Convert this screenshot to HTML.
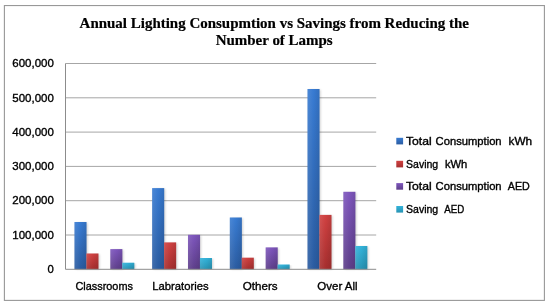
<!DOCTYPE html>
<html lang="en"><head><meta charset="utf-8"><title>Annual Lighting Consumption vs Savings</title>
<style>
html,body{margin:0;padding:0;background:#fff;}
body{width:550px;height:308px;overflow:hidden;}
svg{display:block;}
.t{font-family:"Liberation Serif",serif;font-weight:bold;font-size:14.97px;fill:#000;stroke:#000;stroke-width:0.2px;}
.a{font-family:"Liberation Sans",sans-serif;font-size:11.7px;fill:#000;stroke:#000;stroke-width:0.35px;}
.l{font-size:10.9px;}
</style></head><body>
<svg width="550" height="308" viewBox="0 0 550 308">
<defs>
<linearGradient id="gb" x1="0" x2="0" y1="0" y2="1"><stop offset="0" stop-color="#387bd2"/><stop offset="1" stop-color="#2b5ca1"/></linearGradient>
<linearGradient id="gr" x1="0" x2="0" y1="0" y2="1"><stop offset="0" stop-color="#d04141"/><stop offset="1" stop-color="#a62f2f"/></linearGradient>
<linearGradient id="gp" x1="0" x2="0" y1="0" y2="1"><stop offset="0" stop-color="#7e56bd"/><stop offset="1" stop-color="#5e3f8a"/></linearGradient>
<linearGradient id="gc" x1="0" x2="0" y1="0" y2="1"><stop offset="0" stop-color="#33b3da"/><stop offset="1" stop-color="#2893b3"/></linearGradient>
<linearGradient id="gh" x1="0" x2="1" y1="0" y2="0"><stop offset="0" stop-color="#fff" stop-opacity="0.10"/><stop offset="0.5" stop-color="#fff" stop-opacity="0"/><stop offset="0.5" stop-color="#000" stop-opacity="0"/><stop offset="1" stop-color="#000" stop-opacity="0.10"/></linearGradient>
<filter id="sh" x="-20%" y="-5%" width="150%" height="110%"><feGaussianBlur stdDeviation="0.8"/></filter>
<filter id="bl" x="-5%" y="-5%" width="110%" height="110%"><feGaussianBlur stdDeviation="0.25"/></filter>
</defs>
<rect x="0" y="0" width="550" height="308" fill="#fff"/>
<rect x="4.4" y="5.55" width="540.0" height="294.85" fill="#fff" stroke="#989898" stroke-width="1.1" filter="url(#bl)"/>

<line x1="65.5" x2="376.2" y1="63.50" y2="63.50" stroke="#a6a6a6" stroke-width="1"/>
<line x1="65.5" x2="376.2" y1="97.80" y2="97.80" stroke="#a6a6a6" stroke-width="1"/>
<line x1="65.5" x2="376.2" y1="132.10" y2="132.10" stroke="#a6a6a6" stroke-width="1"/>
<line x1="65.5" x2="376.2" y1="166.40" y2="166.40" stroke="#a6a6a6" stroke-width="1"/>
<line x1="65.5" x2="376.2" y1="200.70" y2="200.70" stroke="#a6a6a6" stroke-width="1"/>
<line x1="65.5" x2="376.2" y1="235.00" y2="235.00" stroke="#a6a6a6" stroke-width="1"/>
<rect x="75.66" y="222.80" width="11.95" height="46.50" fill="#000" opacity="0.18" filter="url(#sh)"/>
<rect x="87.61" y="254.30" width="11.95" height="15.00" fill="#000" opacity="0.18" filter="url(#sh)"/>
<rect x="111.51" y="249.90" width="11.95" height="19.40" fill="#000" opacity="0.18" filter="url(#sh)"/>
<rect x="123.46" y="263.50" width="11.95" height="5.80" fill="#000" opacity="0.18" filter="url(#sh)"/>
<rect x="74.46" y="222.00" width="12.05" height="47.30" fill="url(#gb)"/>
<rect x="74.46" y="222.00" width="12.05" height="47.30" fill="url(#gh)"/>
<rect x="86.41" y="253.50" width="12.05" height="15.80" fill="url(#gr)"/>
<rect x="86.41" y="253.50" width="12.05" height="15.80" fill="url(#gh)"/>
<rect x="110.31" y="249.10" width="12.05" height="20.20" fill="url(#gp)"/>
<rect x="110.31" y="249.10" width="12.05" height="20.20" fill="url(#gh)"/>
<rect x="122.26" y="262.70" width="12.05" height="6.60" fill="url(#gc)"/>
<rect x="122.26" y="262.70" width="12.05" height="6.60" fill="url(#gh)"/>
<rect x="153.34" y="188.90" width="11.95" height="80.40" fill="#000" opacity="0.18" filter="url(#sh)"/>
<rect x="165.29" y="243.20" width="11.95" height="26.10" fill="#000" opacity="0.18" filter="url(#sh)"/>
<rect x="189.19" y="235.60" width="11.95" height="33.70" fill="#000" opacity="0.18" filter="url(#sh)"/>
<rect x="201.14" y="258.80" width="11.95" height="10.50" fill="#000" opacity="0.18" filter="url(#sh)"/>
<rect x="152.14" y="188.10" width="12.05" height="81.20" fill="url(#gb)"/>
<rect x="152.14" y="188.10" width="12.05" height="81.20" fill="url(#gh)"/>
<rect x="164.09" y="242.40" width="12.05" height="26.90" fill="url(#gr)"/>
<rect x="164.09" y="242.40" width="12.05" height="26.90" fill="url(#gh)"/>
<rect x="187.99" y="234.80" width="12.05" height="34.50" fill="url(#gp)"/>
<rect x="187.99" y="234.80" width="12.05" height="34.50" fill="url(#gh)"/>
<rect x="199.94" y="258.00" width="12.05" height="11.30" fill="url(#gc)"/>
<rect x="199.94" y="258.00" width="12.05" height="11.30" fill="url(#gh)"/>
<rect x="231.01" y="218.30" width="11.95" height="51.00" fill="#000" opacity="0.18" filter="url(#sh)"/>
<rect x="242.96" y="258.50" width="11.95" height="10.80" fill="#000" opacity="0.18" filter="url(#sh)"/>
<rect x="266.86" y="248.20" width="11.95" height="21.10" fill="#000" opacity="0.18" filter="url(#sh)"/>
<rect x="278.81" y="265.30" width="11.95" height="4.00" fill="#000" opacity="0.18" filter="url(#sh)"/>
<rect x="229.81" y="217.50" width="12.05" height="51.80" fill="url(#gb)"/>
<rect x="229.81" y="217.50" width="12.05" height="51.80" fill="url(#gh)"/>
<rect x="241.76" y="257.70" width="12.05" height="11.60" fill="url(#gr)"/>
<rect x="241.76" y="257.70" width="12.05" height="11.60" fill="url(#gh)"/>
<rect x="265.66" y="247.40" width="12.05" height="21.90" fill="url(#gp)"/>
<rect x="265.66" y="247.40" width="12.05" height="21.90" fill="url(#gh)"/>
<rect x="277.61" y="264.50" width="12.05" height="4.80" fill="url(#gc)"/>
<rect x="277.61" y="264.50" width="12.05" height="4.80" fill="url(#gh)"/>
<rect x="308.69" y="89.80" width="11.95" height="179.50" fill="#000" opacity="0.18" filter="url(#sh)"/>
<rect x="320.64" y="215.70" width="11.95" height="53.60" fill="#000" opacity="0.18" filter="url(#sh)"/>
<rect x="344.54" y="192.60" width="11.95" height="76.70" fill="#000" opacity="0.18" filter="url(#sh)"/>
<rect x="356.49" y="246.80" width="11.95" height="22.50" fill="#000" opacity="0.18" filter="url(#sh)"/>
<rect x="307.49" y="89.00" width="12.05" height="180.30" fill="url(#gb)"/>
<rect x="307.49" y="89.00" width="12.05" height="180.30" fill="url(#gh)"/>
<rect x="319.44" y="214.90" width="12.05" height="54.40" fill="url(#gr)"/>
<rect x="319.44" y="214.90" width="12.05" height="54.40" fill="url(#gh)"/>
<rect x="343.34" y="191.80" width="12.05" height="77.50" fill="url(#gp)"/>
<rect x="343.34" y="191.80" width="12.05" height="77.50" fill="url(#gh)"/>
<rect x="355.29" y="246.00" width="12.05" height="23.30" fill="url(#gc)"/>
<rect x="355.29" y="246.00" width="12.05" height="23.30" fill="url(#gh)"/>
<line x1="65.5" x2="65.5" y1="63.5" y2="269.3" stroke="#8c8c8c" stroke-width="1"/>
<line x1="65.5" x2="376.2" y1="269.3" y2="269.3" stroke="#8c8c8c" stroke-width="1"/>
<text class="a" x="12.3" y="67.20" textLength="41.6" lengthAdjust="spacingAndGlyphs">600,000</text>
<text class="a" x="12.3" y="101.50" textLength="41.6" lengthAdjust="spacingAndGlyphs">500,000</text>
<text class="a" x="12.3" y="135.80" textLength="41.6" lengthAdjust="spacingAndGlyphs">400,000</text>
<text class="a" x="12.3" y="170.10" textLength="41.6" lengthAdjust="spacingAndGlyphs">300,000</text>
<text class="a" x="12.3" y="204.40" textLength="41.6" lengthAdjust="spacingAndGlyphs">200,000</text>
<text class="a" x="12.3" y="238.70" textLength="41.6" lengthAdjust="spacingAndGlyphs">100,000</text>
<text class="a" x="47.4" y="273.00" textLength="6.3" lengthAdjust="spacingAndGlyphs">0</text>
<text class="a" x="75.50" y="289.8" textLength="57.40" lengthAdjust="spacingAndGlyphs">Classrooms</text>
<text class="a" x="152.30" y="289.8" textLength="56.30" lengthAdjust="spacingAndGlyphs">Labratories</text>
<text class="a" x="242.80" y="289.8" textLength="34.80" lengthAdjust="spacingAndGlyphs">Others</text>
<text class="a" x="317.30" y="289.8" textLength="40.30" lengthAdjust="spacingAndGlyphs">Over All</text>
<text class="t" x="274.3" y="28.0" text-anchor="middle">Annual Lighting Consupmtion vs Savings from Reducing the</text>
<text class="t" x="274.2" y="44.6" text-anchor="middle">Number of Lamps</text>
<rect x="396.3" y="137.8" width="6.8" height="6.6" fill="url(#gb)"/>
<text class="a l" y="144.8"><tspan x="406.00" textLength="25.70" lengthAdjust="spacingAndGlyphs">Total</tspan> <tspan x="435.60" textLength="66.00" lengthAdjust="spacingAndGlyphs">Consumption</tspan> <tspan x="508.50" textLength="23.60" lengthAdjust="spacingAndGlyphs">kWh</tspan></text>
<rect x="396.3" y="160.8" width="6.8" height="6.6" fill="url(#gr)"/>
<text class="a l" y="167.6"><tspan x="406.00" textLength="32.20" lengthAdjust="spacingAndGlyphs">Saving</tspan> <tspan x="444.90" textLength="22.50" lengthAdjust="spacingAndGlyphs">kWh</tspan></text>
<rect x="396.3" y="183.1" width="6.8" height="6.6" fill="url(#gp)"/>
<text class="a l" y="190.3"><tspan x="406.00" textLength="25.70" lengthAdjust="spacingAndGlyphs">Total</tspan> <tspan x="435.60" textLength="66.00" lengthAdjust="spacingAndGlyphs">Consumption</tspan> <tspan x="507.80" textLength="22.00" lengthAdjust="spacingAndGlyphs">AED</tspan></text>
<rect x="396.3" y="206.0" width="6.8" height="6.6" fill="url(#gc)"/>
<text class="a l" y="213.1"><tspan x="406.00" textLength="32.20" lengthAdjust="spacingAndGlyphs">Saving</tspan> <tspan x="444.20" textLength="20.00" lengthAdjust="spacingAndGlyphs">AED</tspan></text>
</svg></body></html>
